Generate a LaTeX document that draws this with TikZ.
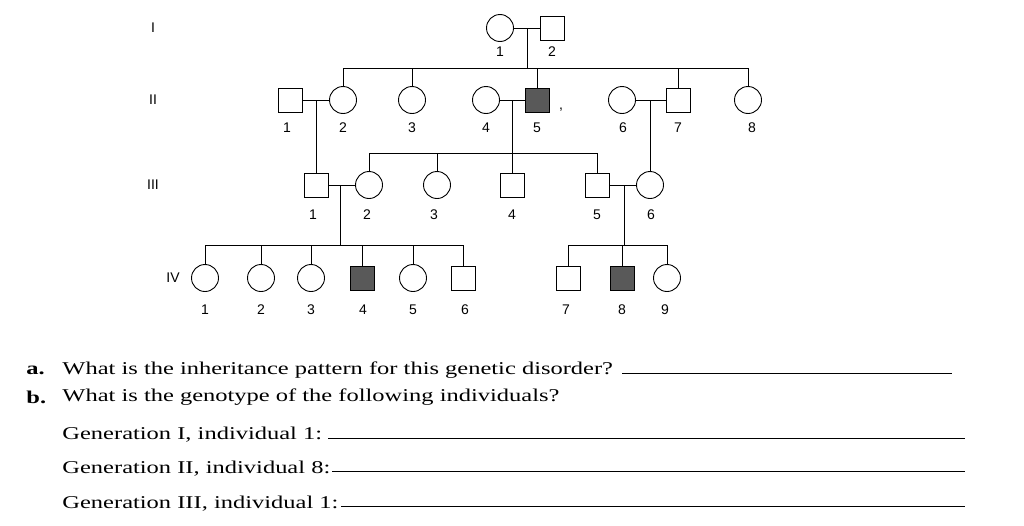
\documentclass[tikz,border=0pt]{standalone}
\usepackage{fontspec}
\setmainfont{Liberation Serif}
\newfontfamily\qfont[FakeStretch=1.36]{Liberation Serif}
\newfontfamily\lab{Liberation Sans}
\begin{document}
\begin{tikzpicture}[x=1pt,y=-1pt,line width=0.9pt,
  fem/.style={circle,draw,minimum size=27pt,inner sep=0pt},
  mal/.style={rectangle,draw,minimum size=24pt,inner sep=0pt},
  aff/.style={mal,fill=black!65},
  num/.style={font=\lab\fontsize{14}{14}\selectfont},
  txt/.style={anchor=west,font=\qfont\fontsize{18}{18}\selectfont,inner sep=0pt}]
\useasboundingbox (0,0) rectangle (1024,525);
% generation labels
\node[num] at (153,28) {I};
\node[num] at (153,100) {II};
\node[num] at (153,185) {III};
\node[num] at (173,278) {IV};
% Gen I
\node[fem] (a1) at (500,28) {};
\node[mal] (a2) at (552,28) {};
\node[num] at (500,52) {1};\node[num] at (552,52) {2};
\draw (a1) -- (a2);
\coordinate (m1) at (527,28);
\coordinate (s1) at (527,68);
\draw (m1) -- (s1);
\coordinate (s1l) at (343,68); \coordinate (s1r) at (748,68);
\draw (s1l) -- (s1r);
% Gen II
\node[mal] (b1) at (290,100) {};
\node[fem] (b2) at (343,100) {};
\node[fem] (b3) at (412,100) {};
\node[fem] (b4) at (486,100) {};
\node[aff] (b5) at (537,100) {};
\node[fem] (b6) at (622,100) {};
\node[mal] (b7) at (678,100) {};
\node[fem] (b8) at (748,100) {};
\foreach \x/\n in {287/1,343/2,412/3,486/4,537/5,623/6,678/7,752/8}
  \node[num] at (\x,128) {\n};
\node[num] at (561,110) {,};
\foreach \b in {b2,b3,b5,b7,b8}
  \draw (\b.north) -- (\b.north |- s1l);
\draw (b1) -- (b2); \draw (b4) -- (b5); \draw (b6) -- (b7);
% Gen III
\node[mal] (c1) at (316,185) {};
\node[fem] (c2) at (369,185) {};
\node[fem] (c3) at (437,185) {};
\node[mal] (c4) at (512,185) {};
\node[mal] (c5) at (597,185) {};
\node[fem] (c6) at (650,185) {};
\foreach \x/\n in {313/1,367/2,434/3,512/4,597/5,651/6}
  \node[num] at (\x,215) {\n};
\draw (c1.north) -- (c1.north |- b1);
\draw (c6.north) -- (c6.north |- b6);
\coordinate (s2l) at (369,153); \coordinate (s2r) at (597,153);
\draw (s2l) -- (s2r);
\draw (c4.north |- b4) -- (c4.north |- s2l);
\foreach \c in {c2,c3,c4,c5}
  \draw (\c.north) -- (\c.north |- s2l);
\draw (c1) -- (c2); \draw (c5) -- (c6);
% Gen IV
\node[fem] (d1) at (205,278) {};
\node[fem] (d2) at (261,278) {};
\node[fem] (d3) at (311,278) {};
\node[aff] (d4) at (362,278) {};
\node[fem] (d5) at (413,278) {};
\node[mal] (d6) at (463,278) {};
\node[mal] (d7) at (568,278) {};
\node[aff] (d8) at (622,278) {};
\node[fem] (d9) at (667,278) {};
\foreach \x/\n in {205/1,261/2,311/3,363/4,413/5,465/6,566/7,622/8,665/9}
  \node[num] at (\x,310) {\n};
\coordinate (s3l) at (205,245); \coordinate (s3r) at (463,245);
\coordinate (s4l) at (568,245); \coordinate (s4r) at (667,245);
\draw (s3l) -- (s3r); \draw (s4l) -- (s4r);
\draw (340,185) -- (340,245);
\draw (624,185) -- (624,245);
\foreach \d in {d1,d2,d3,d4,d5,d6} \draw (\d.north) -- (\d.north |- s3l);
\foreach \d in {d7,d8,d9} \draw (\d.north) -- (\d.north |- s4l);
% questions
\node[txt] at (26,370) {\textbf{a.}};
\node[txt] (qa) at (62,370) {What is the inheritance pattern for this genetic disorder?};
\node[txt] at (26,397) {\textbf{b.}};
\node[txt] at (62,397) {What is the genotype of the following individuals?};
\node[txt] (q1) at (62,435) {Generation I, individual 1:};
\node[txt] (q2) at (62,469) {Generation II, individual 8:};
\node[txt] (q3) at (62,504) {Generation III, individual 1:};
\draw[line width=0.7pt] (622,373) -- (952,373);
\draw[line width=0.7pt] (328,438) -- (965,438);
\draw[line width=0.7pt] (332,471) -- (965,471);
\draw[line width=0.7pt] (341,506) -- (965,506);
\end{tikzpicture}
\end{document}
